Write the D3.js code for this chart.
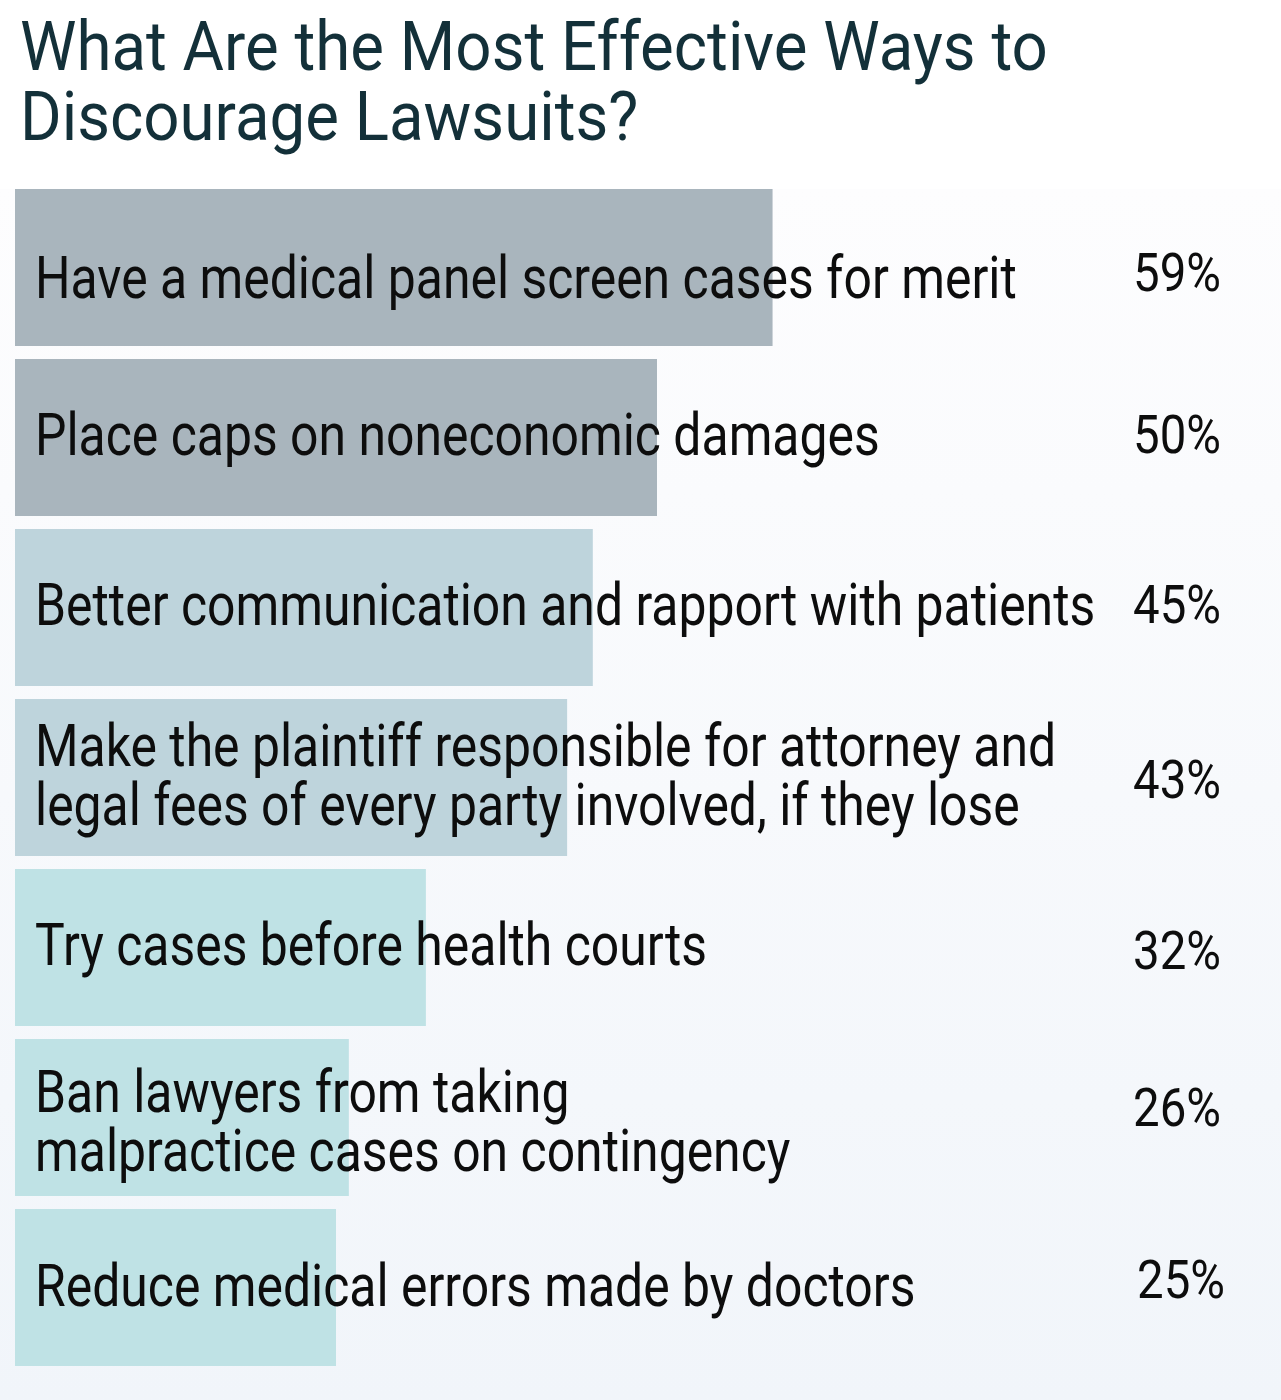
<!DOCTYPE html>
<html>
<head>
<meta charset="utf-8">
<script src="https://cdn.jsdelivr.net/npm/d3@7"></script>
<style>
  html, body { margin: 0; padding: 0; background: #ffffff; }
  svg { display: block; }
</style>
</head>
<body>
<div id="chart"></div>
<script>
// ---- data ----
const titleLines = ["What Are the Most Effective Ways to", "Discourage Lawsuits?"];
const categories = [
  ["Have a medical panel screen cases for merit"],
  ["Place caps on noneconomic damages"],
  ["Better communication and rapport with patients"],
  ["Make the plaintiff responsible for attorney and", "legal fees of every party involved, if they lose"],
  ["Try cases before health courts"],
  ["Ban lawyers from taking", "malpractice cases on contingency"],
  ["Reduce medical errors made by doctors"]
];
const values = [59, 50, 45, 43, 32, 26, 25];
const valueLabels = ["59%", "50%", "45%", "43%", "32%", "26%", "25%"];
const barColors = ["#a9b5bd", "#a9b5bd", "#bed4dc", "#bed4dc", "#bfe2e5", "#bfe2e5", "#bfe2e5"];

// ---- layout (not data) ----
const W = 1281, H = 1400;
const labelNudge = [30, 17, 17, 18, 17, 24, 18];   // baseline offset from bar centre (label block)
const pctNudge   = [23, 15, 15, 20, 21, 8, 10];     // baseline offset from bar centre (percent)
const pctRight   = [1221, 1221, 1221, 1221, 1221, 1221, 1225];

const svg = d3.select("#chart").append("svg")
  .attr("width", W).attr("height", H);

const defs = svg.append("defs");
const grad = defs.append("linearGradient").attr("id", "bg")
  .attr("x1", 0).attr("y1", 0).attr("x2", 0).attr("y2", 1);
grad.append("stop").attr("offset", "0%").attr("stop-color", "#fdfdfe");
grad.append("stop").attr("offset", "100%").attr("stop-color", "#f1f5fa");

svg.append("rect").attr("x", 0).attr("y", 189).attr("width", W).attr("height", H - 189)
  .attr("fill", "url(#bg)");

const step = 170, bh = 157, top0 = 189, n = values.length;
const x = d3.scaleLinear().domain([0, 100]).range([15, 15 + 1284]);
const y = d3.scaleBand().domain(d3.range(n))
  .range([top0, top0 + step * (n - 1) + bh])
  .paddingInner((step - bh) / step).paddingOuter(0).align(0);

svg.append("g").selectAll("rect").data(values).join("rect")
  .attr("x", x(0))
  .attr("y", (d, i) => y(i))
  .attr("width", d => x(d) - x(0))
  .attr("height", y.bandwidth())
  .attr("fill", (d, i) => barColors[i]);

const FONT = "Roboto, 'Noto Sans', sans-serif";

function condense(sel, factor) {
  sel.each(function() {
    const t = d3.select(this);
    const ax = +t.attr("data-x"), ay = +t.attr("data-y");
    t.attr("transform", `translate(${ax},${ay}) scale(${factor},1)`);
  });
}

// title: one text element with two tspans
const title = svg.append("text")
  .attr("data-x", 20).attr("data-y", 70)
  .attr("font-family", FONT).attr("font-size", 68)
  .attr("fill", "#133039");
title.selectAll("tspan").data(titleLines).join("tspan")
  .attr("x", 0).attr("y", (d, i) => i * 70)
  .text(d => d);
const tw = title.select("tspan").node().getComputedTextLength();
condense(title, 1028 / tw);

// category labels: one text per category, tspans for wrapped lines
const labels = svg.append("g").selectAll("text").data(categories).join("text")
  .attr("data-x", 35)
  .attr("data-y", (c, i) => y(i) + y.bandwidth() / 2 + labelNudge[i] - (c.length - 1) * 30)
  .attr("font-family", FONT).attr("font-size", 59)
  .attr("fill", "#0d0d0d");
labels.selectAll("tspan").data(c => c).join("tspan")
  .attr("x", 0).attr("y", (d, j) => j * 60)
  .text(d => d);
const lw = labels.select("tspan").node().getComputedTextLength();
condense(labels, 982 / lw);

// percent labels
const pcts = svg.append("g").selectAll("text").data(valueLabels).join("text")
  .attr("data-x", (d, i) => pctRight[i])
  .attr("data-y", (d, i) => y(i) + y.bandwidth() / 2 + pctNudge[i])
  .attr("font-family", FONT).attr("font-size", 54)
  .attr("text-anchor", "end")
  .attr("fill", "#0d0d0d")
  .text(d => d);
const pw = pcts.node().getComputedTextLength();
condense(pcts, 88 / pw);
</script>
</body>
</html>
